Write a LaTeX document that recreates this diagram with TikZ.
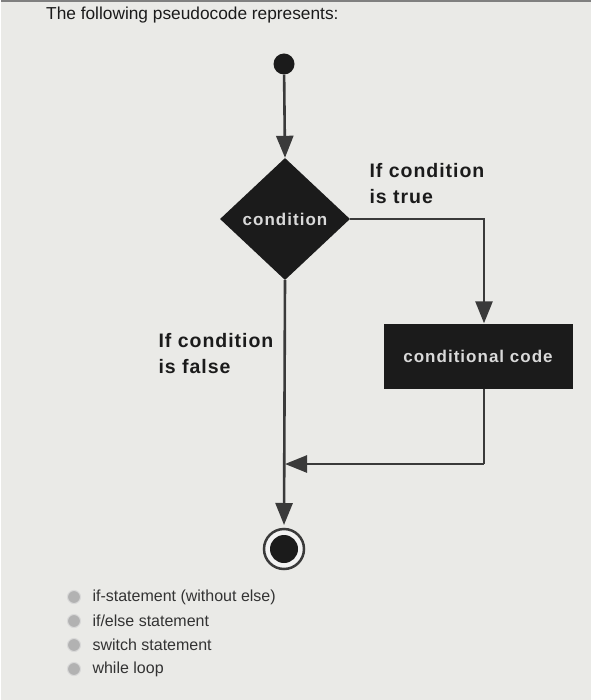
\documentclass[tikz,border=0pt]{standalone}
\usepackage{fontspec}
\setmainfont{Liberation Sans}
\newfontfamily\widefont[LetterSpace=6]{Liberation Sans}
\newfontfamily\guardfont[LetterSpace=5]{Liberation Sans}
\usetikzlibrary{arrows.meta,shapes.geometric,positioning}
\definecolor{screen}{HTML}{EAEAE7}
\definecolor{ink}{HTML}{1B1B1B}
\definecolor{wire}{HTML}{3A3A3A}
\definecolor{radiofill}{HTML}{B2B2B2}
\definecolor{optink}{HTML}{333333}
\tikzset{
  flow/.style={draw=wire, line width=2.6pt, -{Triangle[length=22pt,width=17pt]}},
  wireline/.style={draw=wire, line width=2.6pt},
  initnode/.style={circle, fill=ink, minimum size=21pt, inner sep=0pt},
  decisionnode/.style={diamond, fill=ink, text=white!85!black, inner sep=0pt,
    minimum width=130pt, minimum height=122pt, font=\widefont\bfseries\fontsize{17}{19}\selectfont},
  codebox/.style={rectangle, fill=ink, text=white!85!black, minimum width=189pt,
    minimum height=65pt, font=\widefont\bfseries\fontsize{17}{19}\selectfont},
  endnode/.style={circle, fill=ink, minimum size=28pt, inner sep=0pt},
  guard/.style={font=\guardfont\bfseries\fontsize{19.5}{26}\selectfont, align=left, text=ink},
  radiobtn/.style={circle, fill=radiofill, draw=white!85!black, line width=1pt, minimum size=13pt, inner sep=0pt},
  optlabel/.style={anchor=west, text=optink, font=\fontsize{16}{18}\selectfont}
}
\begin{document}
\begin{tikzpicture}[x=1pt,y=-1pt]
  \fill[screen] (0,0) rectangle (590,700);
  \draw[gray, line width=2pt] (0,1) -- (590,1);
  \node[anchor=base west, inner sep=0pt, text=ink, font=\fontsize{17.3}{20}\selectfont] (title) at (45,20) {The following pseudocode represents:};
  % flow chart
  \node[initnode] (init) at (283,64) {};
  \node[decisionnode] (cond) at (284,219) {condition};
  \node[codebox] (code) at (477,356) {conditional code};
  \draw[wire, fill=white!95!black, line width=2.5pt] (283,549) circle (20pt);
  \node[endnode] (final) at (283,549) {};
  \coordinate (truecorner) at (483,219);
  \coordinate (backcorner) at (483,464);
  \coordinate (merge) at (284,464);
  \draw[flow] (init) -- (cond.north);
  \draw[flow] (cond.east) -- (truecorner) -- (truecorner |- code.north);
  \draw[wireline] (truecorner |- code.south) -- (backcorner);
  \draw[flow] (backcorner) -- (merge);
  \draw[flow] (cond.south) -- ([yshift=24pt]final.center);
  \node[guard, anchor=north west] (truelabel) at (365,160) {If condition\\is true};
  \node[guard, anchor=north west] (falselabel) at (154,330) {If condition\\is false};
  % answers
  \foreach \opt [count=\i] in {if-statement (without else), if/else statement, switch statement, while loop} {
    \node[radiobtn] (radio\i) at (73,{597+(\i-1)*24}) {};
    \node[optlabel, right=8pt of radio\i] (opt\i) {\opt};
  }
\end{tikzpicture}
\end{document}
